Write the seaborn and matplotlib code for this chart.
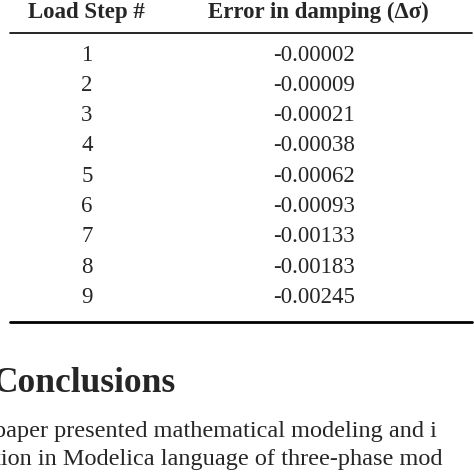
import matplotlib
matplotlib.use("Agg")
import matplotlib.pyplot as plt
import seaborn as sns

sns.set_theme(style="white")
plt.rcParams['font.family'] = ['Liberation Serif', 'DejaVu Serif']

steps = [1, 2, 3, 4, 5, 6, 7, 8, 9]
errors = ["-0.00002", "-0.00009", "-0.00021", "-0.00038", "-0.00062",
          "-0.00093", "-0.00133", "-0.00183", "-0.00245"]
headers = ["Load Step #", "Error in damping (\u0394\u03c3)"]
body = ["paper presented mathematical modeling and i",
        "tion in Modelica language of three-phase mod"]

fig = plt.figure(figsize=(4.74, 4.74), dpi=100)
ax = fig.add_axes([0, 0, 1, 1])
ax.set_xlim(0, 474)
ax.set_ylim(474, 0)
ax.axis("off")

ax.text(86, 12, headers[0], ha="center", va="center", fontsize=16.5, fontweight="bold")
ax.text(318, 12, headers[1], ha="center", va="center", fontsize=16.5, fontweight="bold")
ax.plot([10, 472], [33, 33], color="black", lw=1.2)

for i, (s, e) in enumerate(zip(steps, errors)):
    y = 55 + i * 30.3
    ax.text(87, y, str(s), ha="center", va="center", fontsize=16.5)
    ax.text(314, y, e, ha="center", va="center", fontsize=16.5)

ax.plot([10, 472], [322, 322], color="black", lw=2)

ax.text(-8, 383, "Conclusions", ha="left", va="center", fontsize=25.5, fontweight="bold")
ax.text(-6, 432, body[0], ha="left", va="center", fontsize=17.5)
ax.text(-6, 460, body[1], ha="left", va="center", fontsize=17.5)

fig.savefig("out.png", dpi=100)
